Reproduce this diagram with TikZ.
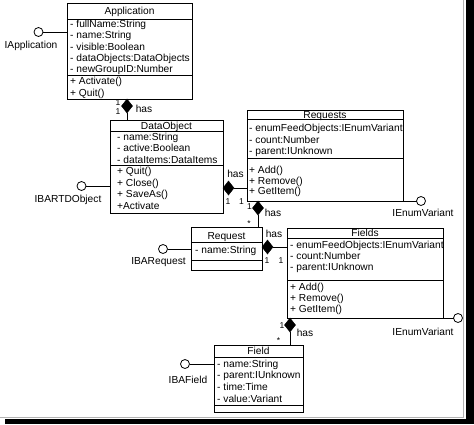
\documentclass[tikz,border=0pt]{standalone}
\usepackage{fontspec}
\setmainfont{Liberation Sans}
\usetikzlibrary{shapes.geometric}
\begin{document}
\begin{tikzpicture}[x=1pt,y=-1pt,
  cls/.style={draw, line width=0.8pt, rectangle, inner sep=0pt, outer sep=0pt, anchor=north west},
  txt/.style={anchor=west, inner sep=0pt, text height=7.3pt, text depth=0pt, font=\fontsize{10.2}{12}\selectfont},
  ttl/.style={anchor=center, inner sep=0pt, text height=7.3pt, text depth=0pt, font=\fontsize{10.2}{12}\selectfont},
  agg/.style={diamond, fill=black, draw=black, line width=0.4pt, inner sep=0pt, outer sep=0pt, minimum width=11pt, minimum height=14pt},
  lolli/.style={circle, draw, line width=0.8pt, fill=white, inner sep=0pt, outer sep=0pt, minimum size=9pt},
  lbl/.style={inner sep=0pt, text height=7.3pt, text depth=0pt, font=\fontsize{10.2}{12}\selectfont},
  mult/.style={inner sep=0pt, text height=6pt, text depth=0pt, font=\fontsize{8.5}{10}\selectfont},
  conn/.style={line width=0.8pt},
  sep/.style={line width=0.8pt}
]
\useasboundingbox (0,0) rectangle (474,424);
\fill[white] (0,0) rectangle (474,424);
\fill[black] (466,0) rectangle (474,424);
\fill[black] (5,419) rectangle (474,424);
\draw[gray!60, line width=0.8pt] (463.5,0) -- (463.5,417.5) -- (0,417.5);

% ---------- Application
\node[cls, minimum width=125pt, minimum height=96pt] (app) at (67,3) {};
\draw[sep] (app.west |- 0,19) -- (app.east |- 0,19);
\draw[sep] (app.west |- 0,75) -- (app.east |- 0,75);
\node[ttl] (appT) at (129.5,11) {Application};
\node[txt] (appA1) at (70,24) {- fullName:String};
\node[txt] (appA2) at (70,35.3) {- name:String};
\node[txt] (appA3) at (70,46.6) {- visible:Boolean};
\node[txt] (appA4) at (70,57.9) {- dataObjects:DataObjects};
\node[txt] (appA5) at (70,69.2) {- newGroupID:Number};
\node[txt] (appM1) at (70,81) {+ Activate()};
\node[txt] (appM2) at (70,92.5) {+ Quit()};

% ---------- DataObject
\node[cls, minimum width=113pt, minimum height=93pt] (dobj) at (110,120) {};
\draw[sep] (dobj.west |- 0,131) -- (dobj.east |- 0,131);
\draw[sep] (dobj.west |- 0,165) -- (dobj.east |- 0,165);
\node[ttl] (dobjT) at (166.5,125.5) {DataObject};
\node[txt] (dobjA1) at (117,137) {- name:String};
\node[txt] (dobjA2) at (117,148.3) {- active:Boolean};
\node[txt] (dobjA3) at (117,159.6) {- dataItems:DataItems};
\node[txt] (dobjM1) at (117,171) {+ Quit()};
\node[txt] (dobjM2) at (117,182.5) {+ Close()};
\node[txt] (dobjM3) at (117,194) {+ SaveAs()};
\node[txt] (dobjM4) at (117,205.5) {+Activate};

% ---------- Requests
\node[cls, minimum width=156pt, minimum height=91pt] (reqs) at (247,110) {};
\draw[sep] (reqs.west |- 0,119.5) -- (reqs.east |- 0,119.5);
\draw[sep] (reqs.west |- 0,158) -- (reqs.east |- 0,158);
\node[ttl] (reqsT) at (325,114.8) {Requests};
\node[txt] (reqsA1) at (249,128) {- enumFeedObjects:IEnumVariant};
\node[txt] (reqsA2) at (249,139.5) {- count:Number};
\node[txt] (reqsA3) at (249,151) {- parent:IUnknown};
\node[txt] (reqsM1) at (249,170) {+ Add()};
\node[txt] (reqsM2) at (249,180.5) {+ Remove()};
\node[txt] (reqsM3) at (249,191) {+ GetItem()};

% ---------- Request
\node[cls, minimum width=71pt, minimum height=43pt] (req) at (191,227) {};
\draw[sep] (req.west |- 0,242) -- (req.east |- 0,242);
\draw[sep] (req.west |- 0,260) -- (req.east |- 0,260);
\node[ttl] (reqT) at (226.5,236) {Request};
\node[txt] (reqA1) at (195,250) {- name:String};

% ---------- Fields
\node[cls, minimum width=156pt, minimum height=90pt] (flds) at (287,228) {};
\draw[sep] (flds.west |- 0,238.5) -- (flds.east |- 0,238.5);
\draw[sep] (flds.west |- 0,280) -- (flds.east |- 0,280);
\node[ttl] (fldsT) at (365,233.3) {Fields};
\node[txt] (fldsA1) at (290,244.5) {- enumFeedObjects:IEnumVariant};
\node[txt] (fldsA2) at (290,256) {- count:Number};
\node[txt] (fldsA3) at (290,267.3) {- parent:IUnknown};
\node[txt] (fldsM1) at (290,287) {+ Add()};
\node[txt] (fldsM2) at (290,298) {+ Remove()};
\node[txt] (fldsM3) at (290,309) {+ GetItem()};

% ---------- Field
\node[cls, minimum width=89pt, minimum height=67pt] (fld) at (214,345) {};
\draw[sep] (fld.west |- 0,357) -- (fld.east |- 0,357);
\draw[sep] (fld.west |- 0,405) -- (fld.east |- 0,405);
\node[ttl] (fldT) at (258.5,351.3) {Field};
\node[txt] (fldA1) at (217,363.5) {- name:String};
\node[txt] (fldA2) at (217,375.2) {- parent:IUnknown};
\node[txt] (fldA3) at (217,387) {- time:Time};
\node[txt] (fldA4) at (217,398.7) {- value:Variant};

% ---------- Aggregations
\node[agg] (d1) at (127,106) {};
\draw[conn] (d1.south) -- (dobj.north -| d1.south);
\node[mult] (d1m1) at (118,102) {1};
\node[mult] (d1m2) at (118,111.5) {1};
\node[lbl] (d1h) at (144,108.5) {has};

\node[agg] (d2) at (228.5,188) {};
\draw[conn] (d2.east) -- (reqs.west |- d2.east);
\node[mult] (d2m1) at (228,201) {1};
\node[mult] (d2m2) at (241.5,201) {1};
\node[lbl] (d2h) at (235.5,173.5) {has};

\node[agg] (d3) at (258,208) {};
\draw[conn] (d3.south) -- (req.north -| d3.south);
\node[mult] (d3m1) at (249.5,206) {1};
\node[mult] (d3m2) at (249,223) {*};
\node[lbl] (d3h) at (273,213) {has};

\node[agg] (d4) at (267.5,247) {};
\draw[conn] (d4.east) -- (flds.west |- d4.east);
\node[mult] (d4m1) at (267,260) {1};
\node[mult] (d4m2) at (281,260) {1};
\node[lbl] (d4h) at (274,234) {has};

\node[agg] (d5) at (290,325) {};
\draw[conn] (d5.south) -- (fld.north -| d5.south);
\node[mult] (d5m1) at (282,325) {1};
\node[mult] (d5m2) at (278.5,340) {*};
\node[lbl] (d5h) at (305,333) {has};

% ---------- Interfaces
\node[lolli] (iapp) at (38.5,32) {};
\draw[conn] (iapp.east) -- (app.west |- iapp.east);
\node[lbl] (iappL) at (31,45) {IApplication};

\node[lolli] (iobj) at (81.5,186) {};
\draw[conn] (iobj.east) -- (dobj.west |- iobj.east);
\node[lbl] (iobjL) at (68,199) {IBARTDObject};

\node[lolli] (ienum1) at (421,201) {};
\draw[conn] (reqs.south east) -- (ienum1.west);
\node[lbl] (ienum1L) at (423,213) {IEnumVariant};

\node[lolli] (ireq) at (163,249) {};
\draw[conn] (ireq.east) -- (req.west |- ireq.east);
\node[lbl] (ireqL) at (158.5,261) {IBARequest};

\node[lolli] (ienum2) at (458,318) {};
\draw[conn] (flds.south east) -- (ienum2.west);
\node[lbl] (ienum2L) at (423,332) {IEnumVariant};

\node[lolli] (ifld) at (185,364) {};
\draw[conn] (ifld.east) -- (fld.west |- ifld.east);
\node[lbl] (ifldL) at (188,380) {IBAField};
\end{tikzpicture}
\end{document}
